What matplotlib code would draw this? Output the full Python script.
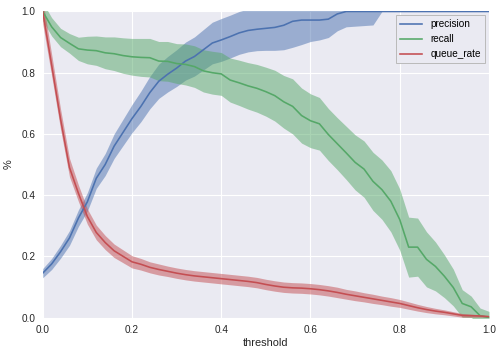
import numpy as np
import matplotlib
matplotlib.use("Agg")
import matplotlib.pyplot as plt

thresholds = [0.00, 0.02, 0.04, 0.06, 0.08, 0.10, 0.12, 0.14, 0.16, 0.18,
              0.20, 0.22, 0.24, 0.26, 0.28, 0.30, 0.32, 0.34, 0.36, 0.38,
              0.40, 0.42, 0.44, 0.46, 0.48, 0.50, 0.52, 0.54, 0.56, 0.58,
              0.60, 0.62, 0.64, 0.66, 0.68, 0.70, 0.72, 0.74, 0.76, 0.78,
              0.80, 0.82, 0.84, 0.86, 0.88, 0.90, 0.92, 0.94, 0.96, 0.98, 1.00]

precision = [0.145, 0.175, 0.215, 0.26, 0.325, 0.378, 0.455, 0.50, 0.56, 0.605,
             0.65, 0.69, 0.735, 0.772, 0.795, 0.815, 0.838, 0.853, 0.875, 0.897,
             0.907, 0.918, 0.93, 0.938, 0.942, 0.945, 0.948, 0.955, 0.968, 0.972,
             0.972, 0.972, 0.975, 0.992, 1.0, 1.0, 1.0, 1.0, 1.0, 1.0,
             1.0, 1.0, 1.0, 1.0, 1.0, 1.0, 1.0, 1.0, 1.0, 1.0, 1.0]
precision_std = [0.015, 0.018, 0.021, 0.024, 0.027, 0.03, 0.033, 0.036, 0.04, 0.043,
                 0.046, 0.05, 0.053, 0.056, 0.058, 0.06, 0.062, 0.064, 0.066, 0.068,
                 0.07, 0.07, 0.07, 0.07, 0.07, 0.072, 0.075, 0.08, 0.085, 0.08,
                 0.07, 0.065, 0.06, 0.055, 0.05, 0.048, 0.046, 0.044, 0.0, 0.0,
                 0.0, 0.0, 0.0, 0.0, 0.0, 0.0, 0.0, 0.0, 0.0, 0.0, 0.0]

recall = [1.0, 0.95, 0.915, 0.896, 0.878, 0.874, 0.872, 0.865, 0.862, 0.856,
          0.852, 0.85, 0.849, 0.838, 0.837, 0.83, 0.827, 0.82, 0.806, 0.80,
          0.796, 0.776, 0.767, 0.757, 0.749, 0.738, 0.725, 0.705, 0.69, 0.66,
          0.643, 0.633, 0.598, 0.568, 0.538, 0.507, 0.485, 0.445, 0.418, 0.38,
          0.32, 0.23, 0.23, 0.19, 0.167, 0.135, 0.098, 0.046, 0.035, 0.006, 0.0]
recall_std = [0.03, 0.03, 0.03, 0.032, 0.038, 0.045, 0.048, 0.052, 0.055, 0.058,
              0.06, 0.062, 0.063, 0.064, 0.065, 0.065, 0.067, 0.068, 0.069, 0.07,
              0.07, 0.072, 0.074, 0.076, 0.078, 0.08, 0.083, 0.086, 0.09, 0.09,
              0.088, 0.086, 0.085, 0.085, 0.087, 0.09, 0.092, 0.095, 0.097, 0.1,
              0.1, 0.098, 0.095, 0.09, 0.08, 0.07, 0.06, 0.045, 0.035, 0.025, 0.02]

queue_rate = [1.0, 0.825, 0.648, 0.49, 0.406, 0.33, 0.278, 0.245, 0.218, 0.20,
              0.182, 0.174, 0.164, 0.157, 0.151, 0.145, 0.14, 0.136, 0.133, 0.13,
              0.127, 0.124, 0.121, 0.118, 0.114, 0.108, 0.103, 0.099, 0.097, 0.096,
              0.094, 0.091, 0.087, 0.082, 0.076, 0.071, 0.066, 0.061, 0.056, 0.051,
              0.046, 0.039, 0.032, 0.026, 0.021, 0.017, 0.012, 0.007, 0.006, 0.005, 0.003]
queue_rate_std = [0.04, 0.035, 0.033, 0.03, 0.027, 0.025, 0.024, 0.023, 0.022, 0.021,
                  0.02, 0.019, 0.018, 0.018, 0.017, 0.017, 0.017, 0.017, 0.017, 0.017,
                  0.017, 0.017, 0.017, 0.017, 0.017, 0.017, 0.017, 0.017, 0.017, 0.017,
                  0.017, 0.017, 0.017, 0.017, 0.016, 0.016, 0.015, 0.015, 0.014, 0.014,
                  0.013, 0.012, 0.011, 0.01, 0.009, 0.008, 0.007, 0.006, 0.005, 0.004, 0.003]

series_names = ["precision", "recall", "queue_rate"]
colors = ["#4C72B0", "#55A868", "#C44E52"]

plt.rcParams['font.family'] = ['Liberation Sans', 'DejaVu Sans']

fig = plt.figure(figsize=(502 / 72, 356 / 72), dpi=72)
ax = fig.add_axes([0.0851, 0.1081, 0.889, 0.8596])
ax.set_facecolor("#EAEAF2")
for s in ax.spines.values():
    s.set_visible(False)
ax.grid(True, color="white", linewidth=1.1)
ax.set_axisbelow(True)

x = np.array(thresholds)
data = [(precision, precision_std), (recall, recall_std), (queue_rate, queue_rate_std)]
for name, color, (m, sd) in zip(series_names, colors, data):
    m = np.array(m)
    sd = np.array(sd)
    ax.plot(x, m, color=color, lw=1.6, label=name)
    ax.fill_between(x, m - sd, m + sd, color=color, alpha=0.5, lw=0)

ax.set_xlim(0, 1)
ax.set_ylim(0, 1)
ax.set_xticks([0.0, 0.2, 0.4, 0.6, 0.8, 1.0])
ax.set_yticks([0.0, 0.2, 0.4, 0.6, 0.8, 1.0])
ax.tick_params(length=0, labelsize=10, labelcolor="#262626", pad=7)
ax.set_xlabel("threshold", fontsize=11, color="#262626", labelpad=3)
ax.set_ylabel("%", fontsize=11, color="#262626", labelpad=8)

leg = ax.legend(loc="upper right", frameon=True, fontsize=10, facecolor="#EAEAF2",
                edgecolor="#BBBBBB", framealpha=1.0, fancybox=False,
                handlelength=2.2, borderaxespad=0.4)
leg.get_frame().set_linewidth(1.0)

fig.savefig("out.png", dpi=72, facecolor="white")
